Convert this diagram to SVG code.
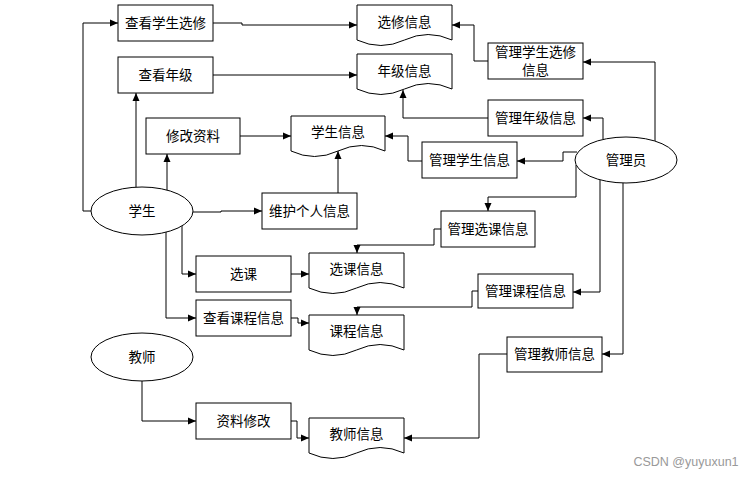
<svg xmlns="http://www.w3.org/2000/svg" width="755" height="478" viewBox="0 0 755 478">
<defs>
<style>
.b{fill:#fff;stroke:#000;stroke-width:1}
.t{font-family:"Liberation Sans","Noto Sans CJK SC",sans-serif;font-size:13.5px;fill:#000;text-anchor:middle;dominant-baseline:central}
.c{fill:none;stroke:#000;stroke-width:1}
</style>
<marker id="a" markerWidth="8" markerHeight="8" refX="8" refY="4" orient="auto" markerUnits="userSpaceOnUse"><path d="M0,0.5 L8,4 L0,7.5 z" fill="#000"/></marker>
</defs>
<rect width="755" height="478" fill="#fff"/>
<g id="connectors" class="c" marker-end="url(#a)">
<polyline class="c" marker-end="url(#a)" points="91,211 83,211 83,23 118,23"/>
<polyline class="c" marker-end="url(#a)" points="213,23 242,23 242,25 357,25"/>
<polyline class="c" marker-end="url(#a)" points="213,75 357,75"/>
<polyline class="c" marker-end="url(#a)" points="136,187 136,93"/>
<polyline class="c" marker-end="url(#a)" points="167,190 167,154"/>
<polyline class="c" marker-end="url(#a)" points="240,136 291,136"/>
<polyline class="c" marker-end="url(#a)" points="193,212 221,212 221,211 262,211"/>
<polyline class="c" marker-end="url(#a)" points="338,193 338,151"/>
<polyline class="c" marker-end="url(#a)" points="182,226 182,274 196,274"/>
<polyline class="c" marker-end="url(#a)" points="166,232 166,318 196,318"/>
<polyline class="c" marker-end="url(#a)" points="291,274 309,274"/>
<polyline class="c" marker-end="url(#a)" points="291,318 298,318 298,323 309,323"/>
<polyline class="c" marker-end="url(#a)" points="655,141 655,62 583,62"/>
<polyline class="c" marker-end="url(#a)" points="488,61 474,61 474,25 452,25"/>
<polyline class="c" marker-end="url(#a)" points="603,139 603,118 583,118"/>
<polyline class="c" marker-end="url(#a)" points="488,118 403,118 403,90"/>
<polyline class="c" marker-end="url(#a)" points="577,152 563,152 563,161 517,161"/>
<polyline class="c" marker-end="url(#a)" points="422,161 408,161 408,136 385,136"/>
<polyline class="c" marker-end="url(#a)" points="576,165 576,197 488,197 488,211"/>
<polyline class="c" marker-end="url(#a)" points="441,229 434,229 434,245 357,245 357,253"/>
<polyline class="c" marker-end="url(#a)" points="600,180 600,292 573,292"/>
<polyline class="c" marker-end="url(#a)" points="478,291 472,291 472,307 357,307 357,315"/>
<polyline class="c" marker-end="url(#a)" points="623,183 623,354 602,354"/>
<polyline class="c" marker-end="url(#a)" points="507,354 479,354 479,438 404,438"/>
<polyline class="c" marker-end="url(#a)" points="142,381 142,421 196,421"/>
<polyline class="c" marker-end="url(#a)" points="291,421 297,421 297,438 309,438"/>
</g>
<g id="n_ckxsxx"><rect class="b" x="118" y="5" width="95" height="36"/><text class="t" x="165.5" y="23">查看学生选修</text></g>
<g id="n_cknj"><rect class="b" x="118" y="57" width="95" height="36"/><text class="t" x="165.5" y="75">查看年级</text></g>
<g id="n_xgzl"><rect class="b" x="146" y="118" width="94" height="36"/><text class="t" x="193" y="136">修改资料</text></g>
<g id="n_whgrxx"><rect class="b" x="262" y="193" width="95" height="36"/><text class="t" x="309.5" y="211">维护个人信息</text></g>
<g id="n_xk"><rect class="b" x="196" y="256" width="95" height="36"/><text class="t" x="243.5" y="274">选课</text></g>
<g id="n_ckkcxx"><rect class="b" x="196" y="300" width="95" height="36"/><text class="t" x="243.5" y="318">查看课程信息</text></g>
<g id="n_zlxg"><rect class="b" x="196" y="403" width="95" height="36"/><text class="t" x="243.5" y="421">资料修改</text></g>
<g id="n_glxsxxxx"><rect class="b" x="488" y="43" width="95" height="36"/><text class="t" x="535.5" y="52">管理学生选修</text><text class="t" x="535.5" y="70">信息</text></g>
<g id="n_glnjxx"><rect class="b" x="488" y="100" width="95" height="36"/><text class="t" x="535.5" y="118">管理年级信息</text></g>
<g id="n_glxsxx"><rect class="b" x="422" y="142" width="95" height="36"/><text class="t" x="469.5" y="160">管理学生信息</text></g>
<g id="n_glxkxx"><rect class="b" x="441" y="211" width="94" height="36"/><text class="t" x="488" y="229">管理选课信息</text></g>
<g id="n_glkcxx"><rect class="b" x="478" y="274" width="95" height="34"/><text class="t" x="525.5" y="291">管理课程信息</text></g>
<g id="n_gljsxx"><rect class="b" x="507" y="337" width="95" height="35"/><text class="t" x="554.5" y="354.5">管理教师信息</text></g>
<g id="n_xs"><ellipse class="b" cx="142" cy="211" rx="51" ry="24"/><text class="t" x="142" y="211">学生</text></g>
<g id="n_js"><ellipse class="b" cx="142" cy="357" rx="51" ry="24"/><text class="t" x="142" y="357">教师</text></g>
<g id="n_gly"><ellipse class="b" cx="626" cy="160" rx="51" ry="23"/><text class="t" x="626" y="160">管理员</text></g>
<g id="d_xxxx"><path class="b" d="M357,5 H452 V40 Q428,29 404.5,40 T357,40 Z"/><text class="t" x="404.5" y="22">选修信息</text></g>
<g id="d_njxx"><path class="b" d="M357,54 H452 V89 Q428,78 404.5,89 T357,89 Z"/><text class="t" x="404.5" y="71">年级信息</text></g>
<g id="d_xsxx"><path class="b" d="M291,116 H385 V151 Q361.5,140 338,151 T291,151 Z"/><text class="t" x="338" y="132">学生信息</text></g>
<g id="d_xkxx"><path class="b" d="M309,253 H404 V288 Q380,277 356.5,288 T309,288 Z"/><text class="t" x="356.5" y="269">选课信息</text></g>
<g id="d_kcxx"><path class="b" d="M309,315 H404 V350 Q380,339 356.5,350 T309,350 Z"/><text class="t" x="356.5" y="331">课程信息</text></g>
<g id="d_jsxx"><path class="b" d="M309,418 H404 V453 Q380,442 356.5,453 T309,453 Z"/><text class="t" x="356.5" y="434">教师信息</text></g>
<text x="686" y="462" font-family="Liberation Sans,sans-serif" font-size="12.5" fill="#999" text-anchor="middle" dominant-baseline="central">CSDN @yuyuxun1</text>
</svg>
